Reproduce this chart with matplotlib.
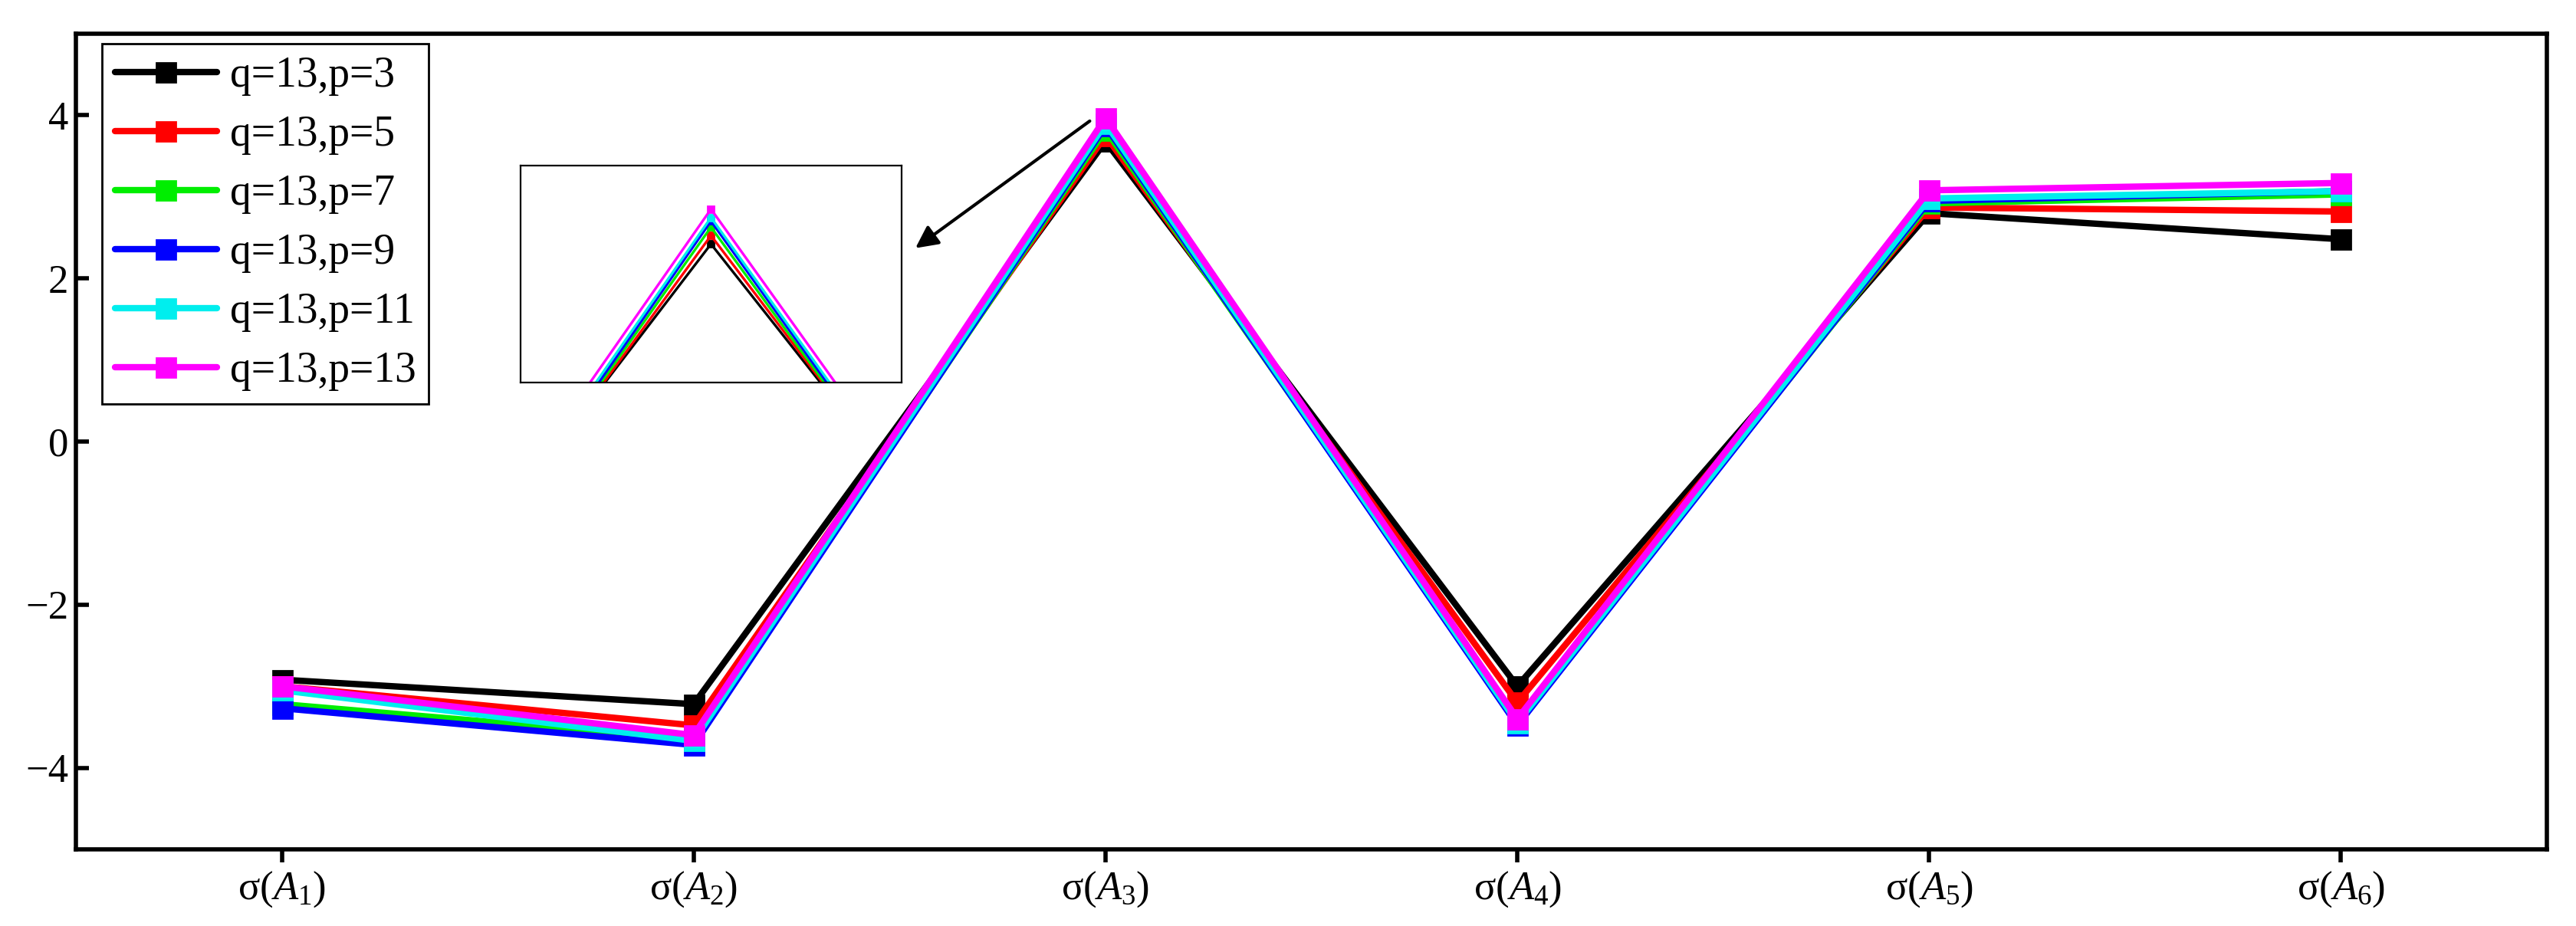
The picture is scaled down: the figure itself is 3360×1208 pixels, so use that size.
import matplotlib
matplotlib.use("Agg")
import matplotlib.pyplot as plt
import numpy as np

plt.rcParams['font.family'] = ['Liberation Serif', 'DejaVu Serif']
plt.rcParams['mathtext.fontset'] = 'custom'
plt.rcParams['mathtext.rm'] = 'Liberation Serif'
plt.rcParams['mathtext.it'] = 'Liberation Serif:italic'

categories = [r'σ($\mathit{A}_1$)', r'σ($\mathit{A}_2$)', r'σ($\mathit{A}_3$)',
              r'σ($\mathit{A}_4$)', r'σ($\mathit{A}_5$)', r'σ($\mathit{A}_6$)']
labels = ['q=13,p=3', 'q=13,p=5', 'q=13,p=7', 'q=13,p=9', 'q=13,p=11', 'q=13,p=13']
colors = ['#000000', '#ff0000', '#00ee00', '#0000ff', '#00eeee', '#ff00ff']
p3 = [-2.92, -3.22, 3.68, -3.00, 2.80, 2.48]
p5 = [-3.00, -3.48, 3.75, -3.20, 2.87, 2.82]
p7 = [-3.22, -3.65, 3.82, -3.42, 2.92, 3.03]
p9 = [-3.27, -3.72, 3.87, -3.48, 2.95, 3.07]
p11 = [-3.05, -3.67, 3.90, -3.45, 2.98, 3.07]
p13 = [-3.00, -3.60, 3.97, -3.40, 3.08, 3.17]
series = [p3, p5, p7, p9, p11, p13]

fig = plt.figure(figsize=(16.8, 6.04), dpi=200)
ax = fig.add_axes([0.0295, 0.0828, 0.9592, 0.8808])
x = np.arange(len(categories))
for s, c, l in zip(series, colors, labels):
    ax.plot(x, s, color=c, lw=3, marker='s', ms=9, label=l, solid_capstyle='round')
ax.set_xlim(-0.5, 5.5)
ax.set_ylim(-5, 5)
ax.set_yticks([-4, -2, 0, 2, 4])
ax.set_yticklabels(['−4', '−2', '0', '2', '4'])
ax.set_xticks(x)
ax.set_xticklabels(categories)
ax.tick_params(axis='both', labelsize=19, width=2, length=6)
ax.tick_params(axis='y', direction='in')
ax.tick_params(axis='x', direction='out')
for sp in ax.spines.values():
    sp.set_linewidth(2)
leg = ax.legend(loc='upper left', bbox_to_anchor=(0.0105, 0.988), borderaxespad=0,
                fontsize=20, fancybox=False, edgecolor='black', framealpha=1,
                handlelength=2.4, labelspacing=0.45, handletextpad=0.3,
                borderpad=0.3)
leg.get_frame().set_linewidth(1)

ax.annotate('', xy=(1.53, 2.34), xytext=(1.97, 3.96),
            arrowprops=dict(arrowstyle='-|>', color='black', lw=1.5, mutation_scale=22))

ins = fig.add_axes([0.202, 0.587, 0.148, 0.234])
for s, c in zip(series, colors):
    ins.plot(x, s, color=c, lw=1.2, marker='s', ms=3)
ins.set_xlim(1.7, 2.3)
ins.set_ylim(2.53, 4.33)
ins.set_xticks([])
ins.set_yticks([])
for sp in ins.spines.values():
    sp.set_linewidth(0.8)

fig.savefig('out.png', dpi=200)
